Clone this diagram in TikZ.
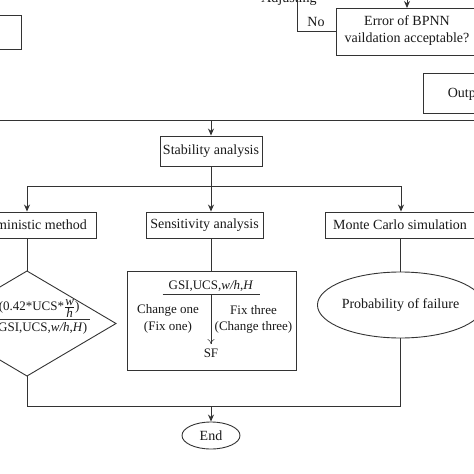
\documentclass[tikz,border=0pt]{standalone}
\usepackage{fontspec}
\setmainfont{Liberation Serif}
\usetikzlibrary{shapes.geometric,arrows.meta}
\begin{document}
\begin{tikzpicture}[x=1pt,y=-1pt, line width=0.9pt,
  every node/.style={font=\fontsize{14}{16.5}\selectfont, text=black!90},
  small/.style={font=\fontsize{13}{15}\selectfont},
  ln/.style={draw=black!80},
  box/.style={draw=black!80, rectangle, inner sep=0pt},
  arr/.style={ln, -{Stealth[length=7pt,width=6pt]}},
  thinarr/.style={draw=black!80, line width=0.5pt, -{To[length=5pt,width=7pt]}}]
\useasboundingbox (0,0) rectangle (474,474);

% top partial elements
\node[box, minimum width=81pt, minimum height=34pt, anchor=north west] (lbox) at (-60,15) {};
\node[box, minimum width=142pt, minimum height=47pt, anchor=north west, align=center] (err) at (336,8) {};
\node[align=center] (errt) at (407,30.5) {Error of BPNN\\vaildation acceptable?};
\node[box, minimum width=97pt, minimum height=40pt, anchor=north west] (outb) at (423,73) {};
\node[anchor=west] (outt) at (444,94) {Output};
\node[anchor=base] (adj) at (289,2) {Adjusting};
\node (no) at (316,22) {No};
\coordinate (adjtop) at (297.5,0);
\draw[ln] (adjtop) |- (err.west |- 0,31);
\coordinate (errin) at (407,-2);
\draw[arr] (errin) -- (err.north -| errin);

% horizontal bus
\coordinate (busL) at (0,120);
\coordinate (busR) at (474,120);
\draw[ln] (busL) -- (busR);

\node[box, minimum width=102pt, minimum height=30pt] (stab) at (211,151) {Stability analysis};
\coordinate (busS) at (211,120);
\draw[arr] (busS) -- (stab.north);

\coordinate (split) at (211,186);
\coordinate (splitL) at (27,186);
\coordinate (splitR) at (401,186);
\draw[ln] (stab.south) -- (split);
\draw[ln] (splitL) -- (splitR);

\node[box, minimum width=140pt, minimum height=26pt] (det) at (26,225) {Deterministic method};
\node[box, minimum width=117pt, minimum height=26pt] (sens) at (204.5,225) {Sensitivity analysis};
\node[box, minimum width=150pt, minimum height=26pt] (mc) at (400,225) {Monte Carlo simulation};
\draw[arr] (splitL) -- (splitL |- det.north);
\draw[arr] (split) -- (split |- sens.north);
\draw[arr] (splitR) -- (splitR |- mc.north);

% diamond
\coordinate (dT) at (27,271);
\coordinate (dR) at (116,323.5);
\coordinate (dB) at (27,376);
\coordinate (dL) at (-62,323.5);
\draw[ln] (dT) -- (dR) -- (dB) -- (dL) -- cycle;
\draw[ln] (27,238) -- (dT);
\node[small, anchor=south east, inner sep=1pt] (num) at (81,318.5) {f(0.42*UCS*$\frac{\textit{w}}{\textit{h}}$)};
\node[small, anchor=east] (den) at (91,328) {f(GSI,UCS,\textit{w/h},\textit{H})};
\coordinate (barL) at (-20,319.5);
\coordinate (barR) at (90,319.5);
\draw[ln, line width=0.6pt] (barL) -- (barR);

% sensitivity box
\node[box, minimum width=169pt, minimum height=99pt, anchor=north west] (sbox) at (127,271) {};
\draw[ln] (211,238) -- (211,271);
\node[small] (vars) at (211,285.5) {GSI,UCS,\textit{w/h},\textit{H}};
\coordinate (ulL) at (162.5,294);
\coordinate (ulR) at (259.5,294);
\draw[ln, line width=0.6pt] (ulL) -- (ulR);
\coordinate (arrS) at (211,294);
\coordinate (arrE) at (211,344);
\draw[thinarr] (arrS) -- (arrE);
\node[small] (c1) at (168,310) {Change one};
\node[small] (c2) at (168,327) {(Fix one)};
\node[small] (f1) at (253.5,310) {Fix three};
\node[small] (f2) at (253.5,327) {(Change three)};
\node[small] (sf) at (211,353) {SF};

% probability ellipse
\node[draw=black!80, ellipse, minimum width=134pt, minimum height=66pt, inner sep=0pt] (pf) at (400.5,305) {Probability of failure};
\draw[ln] (mc.south -| pf.north) -- (pf.north);
\coordinate (pfin) at (480,306);
\draw[arr] (pfin) -- (pf.east);

% merge to end
\coordinate (mL) at (27,406);
\coordinate (mR) at (400.5,406);
\coordinate (mS) at (211,406);
\draw[ln] (dB) -- (mL) -- (mR) -- (pf.south);
\node[draw=black!80, ellipse, minimum width=58pt, minimum height=27pt, inner sep=0pt] (end) at (211,435.5) {End};
\draw[arr] (mS) -- (end.north);
\end{tikzpicture}
\end{document}
